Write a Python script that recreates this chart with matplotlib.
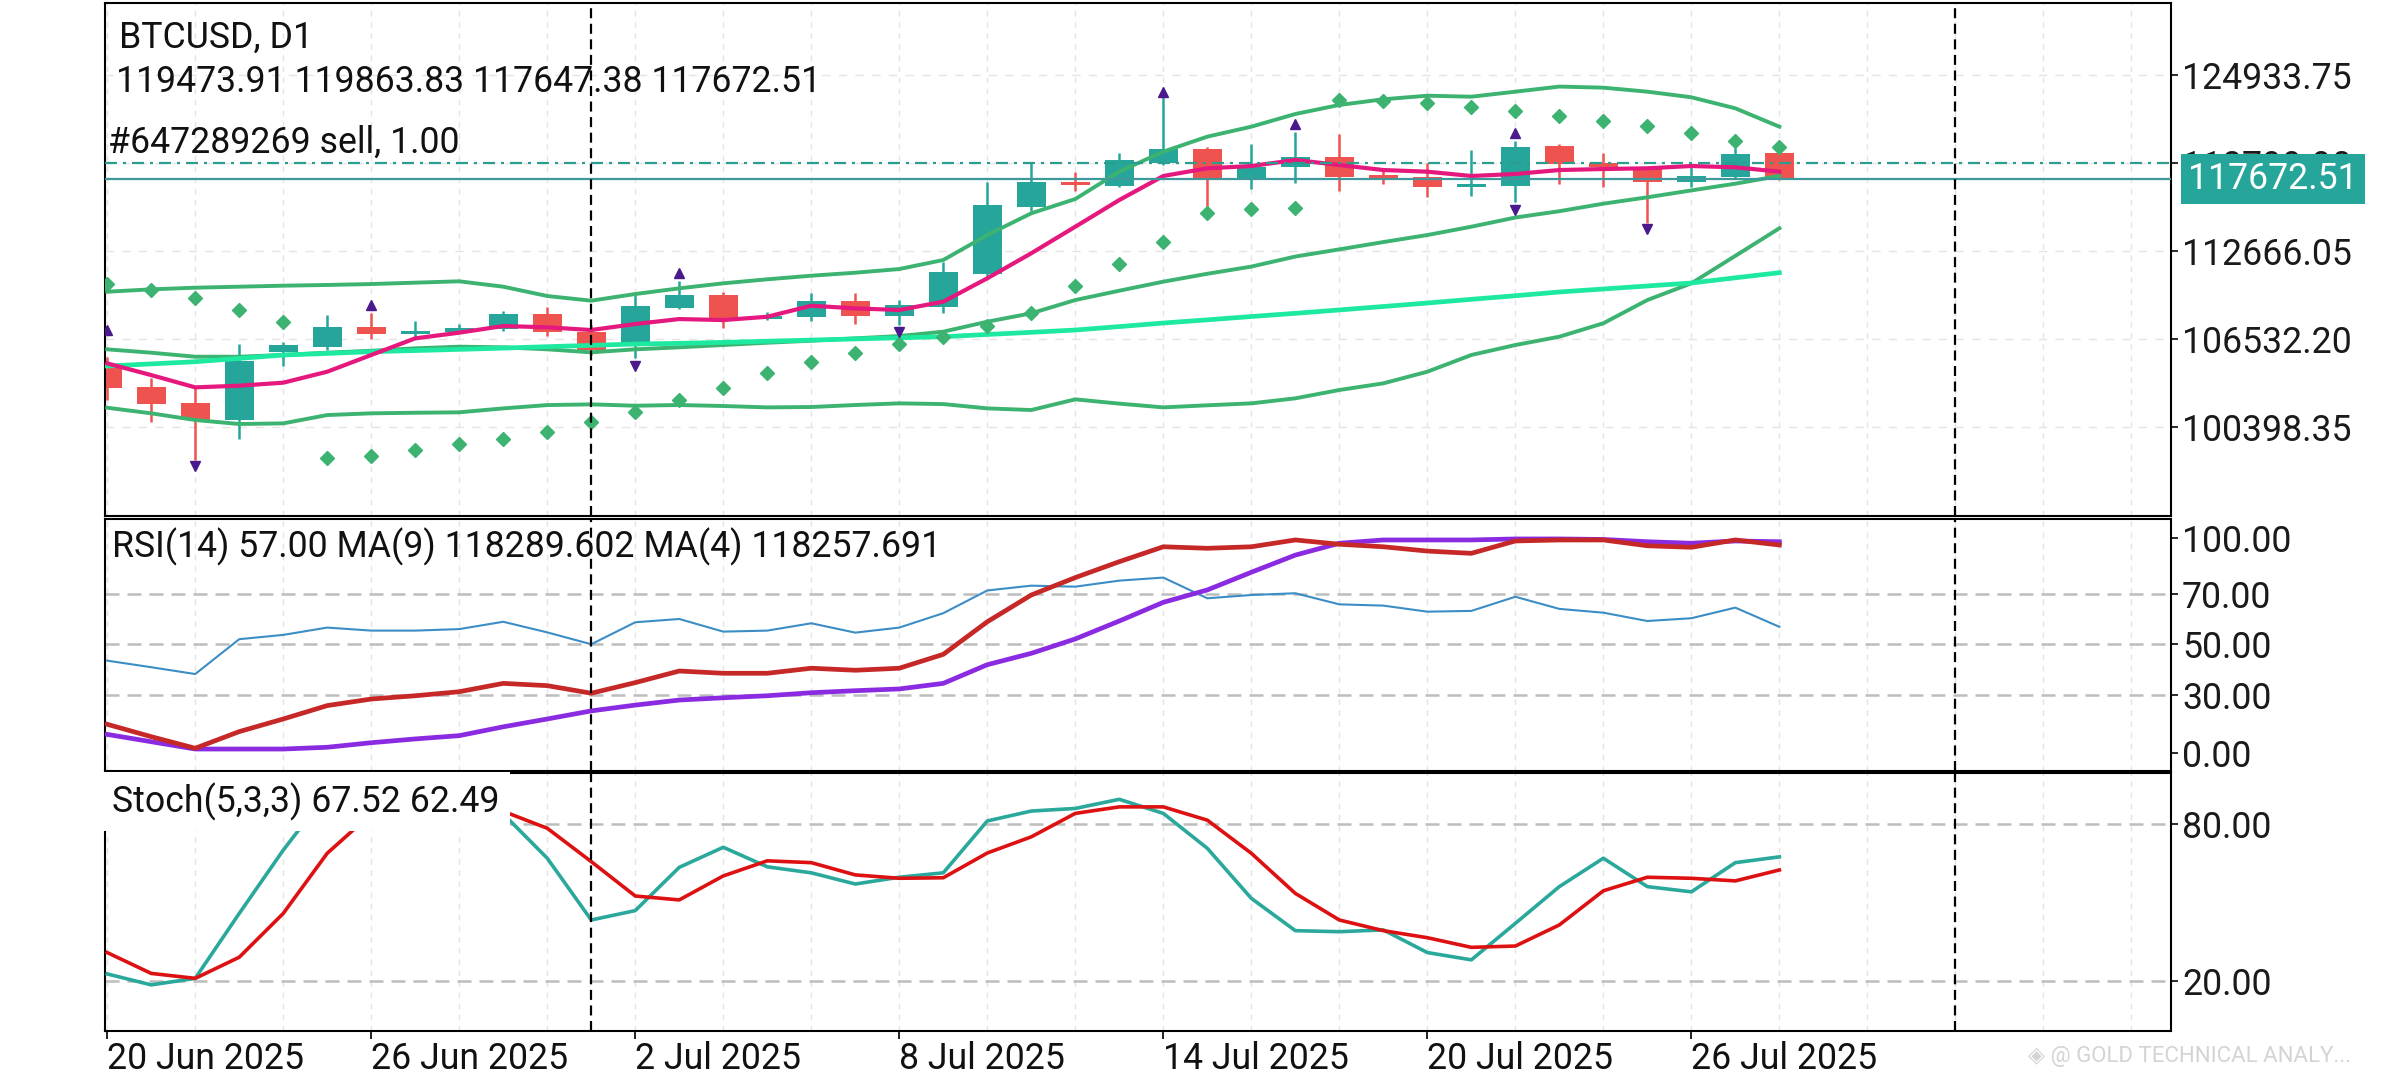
import matplotlib
matplotlib.use('Agg')
import matplotlib.pyplot as plt
import matplotlib.transforms as mtransforms

plt.rcParams['font.family'] = ['Roboto', 'DejaVu Sans']

# ---- data (daily candles, 20 Jun .. 28 Jul 2025) ----
date_labels = ['20 Jun 2025', '26 Jun 2025', '2 Jul 2025', '8 Jul 2025',
               '14 Jul 2025', '20 Jul 2025', '26 Jul 2025']
date_pos = [0, 6, 12, 18, 24, 30, 36]
month_sep = [11, 42]

opens = [104500, 103190, 102050, 100870, 105630, 106000, 107350, 106880, 107045, 107210,
         108275, 107045, 106280, 108715, 109600, 107905, 108085, 109180, 108155, 108785,
         111065, 115755, 117475, 117220, 118780, 119755, 117615, 118500, 119195, 117945,
         117805, 117150, 117220, 119985, 118820, 118500, 117495, 117805, 119473.91]
highs = [105300, 103815, 103100, 106185, 106345, 108205, 108365, 107785, 107580, 108505,
         108785, 107510, 109600, 110575, 109790, 108395, 109760, 109760, 109250, 111920,
         117495, 118850, 118195, 119475, 123590, 119915, 120125, 120980, 120820, 118430,
         118820, 119705, 120335, 120125, 119475, 118590, 118590, 119825, 119863.83]
lows = [102300, 100770, 98100, 99580, 104650, 105765, 106555, 106690, 106950, 107090,
        106740, 105420, 105210, 108605, 107280, 107855, 107810, 107580, 107510, 108325,
        110875, 115475, 116850, 117150, 118660, 115245, 116965, 117385, 116870, 117335,
        116410, 116520, 116105, 117335, 117150, 114600, 117150, 117665, 117647.38]
closes = [103100, 101980, 100870, 105020, 106095, 107350, 106860, 107090, 107280, 108275,
          107045, 105765, 108855, 109600, 107905, 108135, 109180, 108155, 108900, 111205,
          115875, 117495, 117245, 119010, 119755, 117615, 118500, 119195, 117845, 117665,
          117150, 117335, 119935, 118710, 118500, 117495, 117895, 119425, 117672.51]

bb_upper = [109830, 109995, 110110, 110180, 110250, 110300, 110365, 110460, 110555, 110180,
            109530, 109205, 109670, 110065, 110415, 110695, 110945, 111155, 111410, 112040,
            113780, 115295, 116290, 118200, 119590, 120635, 121330, 122215, 122845, 123240,
            123490, 123420, 123770, 124125, 124050, 123770, 123380, 122610, 121330]
bb_middle = [105815, 105580, 105300, 105300, 105420, 105580, 105715, 105885, 106000, 105955,
             105815, 105605, 105815, 105955, 106115, 106275, 106415, 106580, 106740, 107045,
             107740, 108325, 109250, 109900, 110530, 111080, 111580, 112280, 112780, 113290,
             113780, 114360, 115000, 115440, 115965, 116410, 116890, 117360, 117900]
bb_lower = [101745, 101355, 100890, 100610, 100655, 101235, 101355, 101395, 101425, 101700,
            101930, 101980, 101885, 101935, 101865, 101770, 101795, 101935, 102050, 102000,
            101700, 101585, 102330, 102030, 101770, 101915, 102050, 102400, 102980, 103445,
            104255, 105420, 106115, 106695, 107630, 109250, 110415, 112330, 114250]
ma_fast = [104835, 104020, 103165, 103280, 103490, 104255, 105420, 106580, 106975, 107440,
           107350, 107160, 107580, 107925, 107855, 108085, 108855, 108670, 108555, 109135,
           110765, 112510, 114360, 116220, 117895, 118430, 118590, 119010, 118660, 118310,
           118195, 117895, 118035, 118310, 118380, 118430, 118590, 118500, 118195]
ma_slow = [104651, 104800, 104951, 105180, 105418, 105530, 105650, 105730, 105813, 105900,
           106000, 106090, 106185, 106233, 106300, 106380, 106460, 106540, 106620, 106693,
           106850, 107000, 107160, 107400, 107648, 107870, 108100, 108324, 108560, 108800,
           109042, 109300, 109550, 109810, 110020, 110230, 110437, 110800, 111156]
sar = [110345, 109950, 109370, 108555, 107740, 98260, 98380, 98795, 99215, 99565,
       100070, 100745, 101425, 102280, 103150, 104140, 104950, 105580, 106185, 106695,
       107440, 108325, 110250, 111760, 113295, 115335, 115595, 115645, 123190, 123100,
       122960, 122725, 122445, 122075, 121750, 121400, 120870, 120355, 119895]
fractal_up_idx = [0, 6, 13, 24, 27, 32]
fractal_up = [107160, 108900, 111135, 123770, 121520, 120870]
fractal_dn_idx = [2, 12, 18, 32, 35]
fractal_dn = [97700, 104650, 107045, 115525, 114180]

price_levels = [100398.35, 106532.20, 112666.05, 118799.90, 124933.75]
order_price = 118799.90

rsi = [43.6, 41.0, 38.3, 52.1, 53.8, 56.7, 55.5, 55.5, 56.1, 59.0,
       54.8, 50.1, 58.8, 60.1, 55.1, 55.5, 58.4, 54.7, 56.7, 62.4,
       71.4, 73.3, 72.9, 75.3, 76.5, 68.3, 69.6, 70.3, 65.9, 65.4,
       63.0, 63.3, 68.9, 64.1, 62.6, 59.3, 60.4, 64.6, 57.0]
rsi_ma4 = [18.4, 13.5, 8.9, 15.5, 20.5, 25.8, 28.4, 29.7, 31.3, 34.6,
           33.7, 30.7, 34.9, 39.5, 38.6, 38.6, 40.6, 39.8, 40.6, 46.1,
           59.0, 69.6, 76.5, 82.8, 88.7, 88.1, 88.7, 91.4, 89.7, 88.7,
           87.0, 86.1, 91.0, 91.4, 91.4, 89.1, 88.5, 91.4, 89.4]
rsi_ma9 = [14.4, 11.5, 8.6, 8.6, 8.6, 9.3, 11.1, 12.6, 13.9, 17.4,
           20.5, 23.7, 26.0, 28.0, 28.9, 29.7, 30.9, 31.7, 32.4, 34.6,
           42.0, 46.5, 52.2, 59.3, 66.7, 71.6, 78.6, 85.4, 90.1, 91.4,
           91.4, 91.4, 91.8, 91.8, 91.6, 90.7, 90.1, 91.0, 90.7]
rsi_levels = [70, 50, 30]

stoch_k = [22.6, 18.4, 20.9, 45.8, 70.1, 92, 96, 97, 95, 84,
           67.0, 43.3, 46.9, 63.5, 71.2, 63.7, 61.4, 57.1, 59.7, 61.4,
           81.3, 85.1, 86.1, 89.6, 84.2, 70.8, 51.6, 39.2, 38.8, 39.5,
           30.8, 28.0, 42.0, 56.1, 67.0, 56.1, 54.1, 65.3, 67.52]
stoch_d = [30.8, 22.8, 20.9, 29.0, 45.8, 68.9, 84, 92, 93, 85,
           78.5, 65.7, 52.5, 51.0, 60.2, 66.0, 65.3, 60.6, 59.3, 59.5,
           69.0, 75.2, 84.2, 86.7, 86.7, 81.6, 68.9, 53.5, 43.3, 39.2,
           36.5, 32.8, 33.3, 41.4, 54.5, 59.7, 59.3, 58.3, 62.49]
stoch_levels = [80, 20]

# ---- colours ----
bull = '#26A69A'
bear = '#EF5350'
bb_col = '#3CB371'
fs = 25.7

W, H = 2392, 1080
fig = plt.figure(figsize=(W / 100, H / 100), dpi=100)
L, R = 105, 2171

def box(top, bottom):
    return [L / W, 1 - bottom / H, (R - L) / W, (bottom - top) / H]

ax1 = fig.add_axes(box(3, 516))
ax2 = fig.add_axes(box(519, 771))
ax3 = fig.add_axes(box(773, 1031))

x = list(range(len(opens)))
for ax in (ax1, ax2, ax3):
    ax.set_xlim(-0.05, 46.9)
    for i in range(0, 47, 2):
        ax.axvline(i, color='#E4E4E4', lw=1, ls=(0, (4, 4)), zorder=0)
    for m in month_sep:
        ax.axvline(m, color='black', lw=1.6, ls=(0, (4.5, 2.5)), zorder=6)
    for s in ax.spines.values():
        s.set_linewidth(1.5)
    ax.yaxis.tick_right()
    ax.tick_params(axis='y', length=5, width=1.3, pad=3, labelsize=fs, colors='#1a1a1a')
    ax.tick_params(axis='x', bottom=False, labelbottom=False)

# ---- price panel ----
ax1.set_ylim(94200, 129950)
for lv in price_levels:
    ax1.axhline(lv, color='#E4E4E4', lw=1, ls=(0, (6, 6)), zorder=0)
ax1.set_yticks(price_levels)
ax1.set_yticklabels(['%.2f' % v for v in price_levels])

cols = [bull if c >= o else bear for o, c in zip(opens, closes)]
ax1.vlines(x, lows, highs, colors=cols, lw=1.8, zorder=2)
ax1.bar(x, [max(abs(c - o), 120) for o, c in zip(opens, closes)],
        bottom=[min(o, c) for o, c in zip(opens, closes)],
        width=0.66, color=cols, zorder=2)

ax1.plot(x, bb_upper, color=bb_col, lw=2.8, zorder=3)
ax1.plot(x, bb_middle, color=bb_col, lw=2.8, zorder=3)
ax1.plot(x, bb_lower, color=bb_col, lw=2.8, zorder=3)
ax1.plot(x, ma_slow, color='#1DE9A0', lw=3.4, zorder=3)
ax1.plot(x, ma_fast, color='#E5197D', lw=3.0, zorder=4)
ax1.plot(x, sar, 'D', color=bb_col, ms=7.5, ls='none', zorder=5)
ax1.plot(fractal_up_idx, fractal_up, '^', color='#4A1A8C', ms=6.5, ls='none', zorder=5)
ax1.plot(fractal_dn_idx, fractal_dn, 'v', color='#4A1A8C', ms=6.5, ls='none', zorder=5)

ax1.axhline(order_price, color='#2A9D8F', lw=1.6, ls=(0, (5.4, 2.7, 1.35, 2.7)), zorder=5)
ax1.axhline(closes[-1], color='#3E9A9A', lw=1.6, zorder=5)

tr = mtransforms.blended_transform_factory(ax1.transAxes, ax1.transData)
ax1.text((2188 - L) / (R - L), closes[-1], '%.2f' % closes[-1], transform=tr,
         ha='left', va='center', color='white', fontsize=fs, clip_on=False, zorder=10,
         bbox=dict(boxstyle='square,pad=0.2', facecolor=bull, edgecolor='none'))

fig.text(119 / W, 1 - 48 / H, 'BTCUSD, D1', fontsize=fs, color='#111111')
fig.text(116 / W, 1 - 92 / H, '%.2f %.2f %.2f %.2f' % (opens[-1], highs[-1], lows[-1], closes[-1]),
         fontsize=fs, color='#111111')
fig.text(108 / W, 1 - 153 / H, '#647289269 sell, 1.00', fontsize=fs, color='#111111')

# ---- RSI panel ----
ax2.set_ylim(-0.1, 99.7)
for lv in rsi_levels:
    ax2.axhline(lv, color='#BDBDBD', lw=1.8, ls=(0, (5.6, 3.2)), zorder=1)
ax2.set_yticks([92, 70, 50, 30, 7])
ax2.set_yticklabels(['100.00', '70.00', '50.00', '30.00', '0.00'])
ax2.plot(x, rsi, color='#3C8DC5', lw=1.5, zorder=3)
ax2.plot(x, rsi_ma9, color='#8A2BE2', lw=3.4, zorder=3)
ax2.plot(x, rsi_ma4, color='#C62828', lw=3.4, zorder=4)
fig.text(112 / W, 1 - 557 / H,
         'RSI(14) %.2f MA(9) 118289.602 MA(4) 118257.691' % rsi[-1],
         fontsize=fs, color='#111111')

# ---- Stochastic panel ----
ax3.set_ylim(0.7, 99.7)
for lv in stoch_levels:
    ax3.axhline(lv, color='#BDBDBD', lw=1.8, ls=(0, (5.6, 3.2)), zorder=1)
ax3.set_yticks(stoch_levels)
ax3.set_yticklabels(['%.2f' % v for v in stoch_levels])
ax3.plot(x, stoch_k, color='#2BA89C', lw=2.6, zorder=3)
ax3.plot(x, stoch_d, color='#DD1111', lw=2.6, zorder=4)
ax3.text(0.0035, 1 - (812 - 773) / (1031 - 773), 'Stoch(5,3,3) %.2f %.2f' % (stoch_k[-1], stoch_d[-1]),
         transform=ax3.transAxes, fontsize=fs, color='#111111', va='baseline', zorder=8,
         bbox=dict(boxstyle='square,pad=0.28', facecolor='white', edgecolor='none'))

ax3.tick_params(axis='x', bottom=True, labelbottom=True, length=6, width=1.3,
                pad=1, labelsize=fs, colors='#111111')
ax3.set_xticks(date_pos)
ax3.set_xticklabels(date_labels)
for lab in ax3.get_xticklabels():
    lab.set_ha('left')

fig.text(2028 / W, 1 - 1062 / H, '\u25c8 @ GOLD TECHNICAL ANALY...', fontsize=16,
         color='#D4D4D4')

fig.savefig('out.png', dpi=100)
